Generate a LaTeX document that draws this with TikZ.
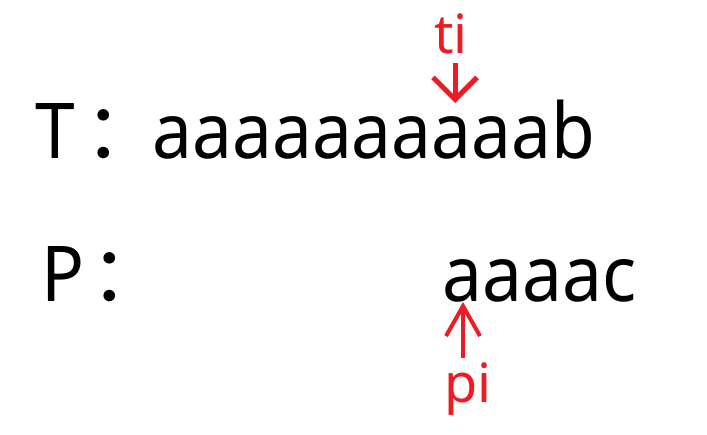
\documentclass[tikz,border=0pt]{standalone}
\usepackage{fontspec}
\setmainfont{Noto Sans}
\newfontfamily\narrowfont[FakeStretch=0.925]{Noto Sans}
\newfontfamily\cjk{Noto Sans CJK SC}
\usetikzlibrary{arrows.meta}
\definecolor{mred}{RGB}{237,28,36}
\begin{document}
\begin{tikzpicture}[x=1pt,y=-1pt,
  big/.style={inner sep=0pt,anchor=base west,font=\narrowfont\fontsize{77}{80}\selectfont},
  lbl/.style={inner sep=0pt,anchor=base west,text=mred,font=\fontsize{54}{56}\selectfont},
  ptr/.style={draw=mred,line width=5pt,-{Straight Barb[length=22pt,width=44pt,line width=5pt]}}]
\useasboundingbox (0,0) rectangle (707,434);
\node[big] (T) at (35,158) {T};
\node[big] (Tc) at (84,158) {\cjk ：};
\node[big] (Ts) at (152,158) {aaaaaaaaaab};
\node[big] (P) at (41,301) {P};
\node[big] (Pc) at (90,301) {\cjk ：};
\node[big] (Ps) at (442,301) {aaaac};
\node[lbl] (ti) at (434,53) {ti};
\node[lbl] (pi) at (444,402) {pi};
\coordinate (t1) at (455,63);
\coordinate (t2) at (455,103);
\coordinate (p1) at (463,358);
\coordinate (p2) at (463,302);
\draw[ptr] (t1) -- (t2);
\draw[ptr,-{Straight Barb[length=30pt,width=34pt,line width=4pt]},line width=4.5pt] (p1) -- (p2);
\end{tikzpicture}
\end{document}
